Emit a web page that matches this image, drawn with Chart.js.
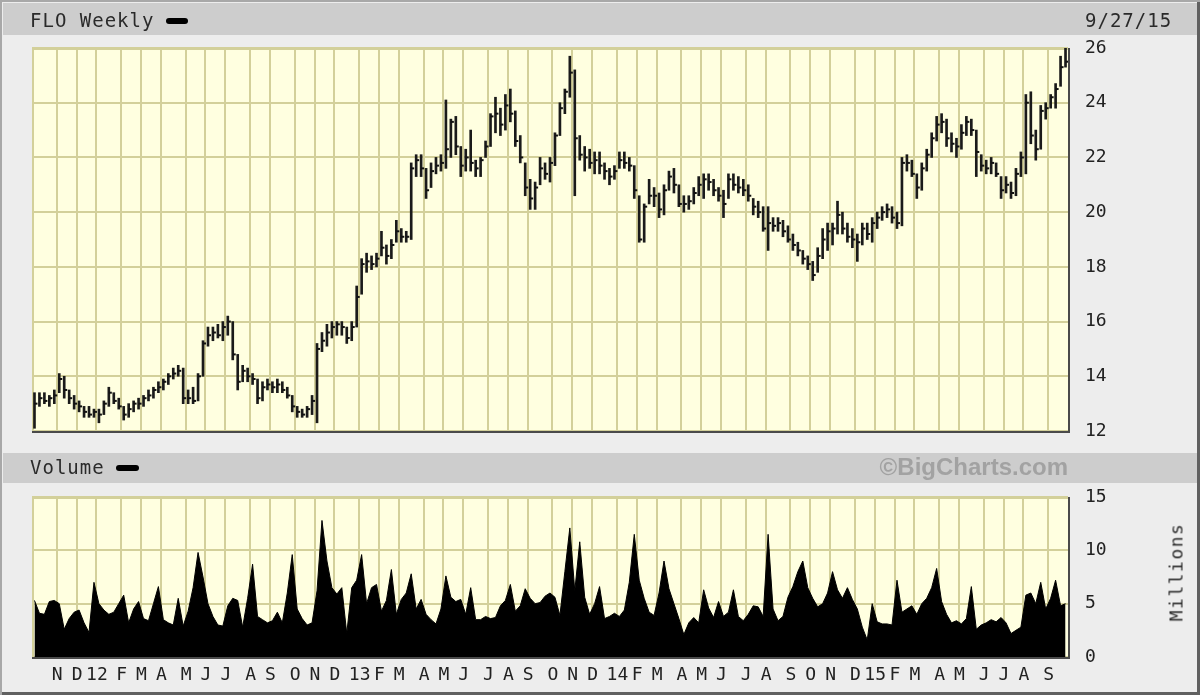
<!DOCTYPE html>
<html><head><meta charset="utf-8">
<script src="https://cdn.jsdelivr.net/npm/chart.js@4.4.0/dist/chart.umd.min.js"></script>
<style>
html,body{margin:0;padding:0;background:#ededed;}
#frame{position:relative;width:1200px;height:695px;background:#ededed;overflow:hidden;font-family:"DejaVu Sans Mono",monospace;color:#2a2a2a;box-shadow:inset 2px 2px 0 #a8a8a8, inset -3px -3px 0 #606060;}
.band{position:absolute;left:3px;width:1194px;background:#cdcdcd;}
.txt{position:absolute;font-size:19px;line-height:19px;letter-spacing:1px;white-space:nowrap;color:#2a2a2a;}
.dash{position:absolute;background:#000;border-radius:3px;}
canvas{position:absolute;left:0;}
</style></head>
<body>
<div id="frame">
  <div class="band" style="top:3px;height:32px;"></div>
  <div class="band" style="top:453px;height:30px;"></div>
  <canvas id="price" width="1200" height="445" style="top:0;"></canvas>
  <canvas id="vol" width="1200" height="255" style="top:440px;"></canvas>
  <div class="txt" style="left:30px;top:11px;">FLO Weekly</div>
  <div class="dash" style="left:166px;top:18px;width:22px;height:6px;"></div>
  <div class="txt" style="left:1085px;top:11px;">9/27/15</div>
  <div class="txt" style="left:30px;top:458px;">Volume</div>
  <div class="dash" style="left:116px;top:465px;width:23px;height:6px;"></div>
  <div style="position:absolute;right:132px;top:455px;font:bold 24px 'Liberation Sans',Arial,sans-serif;line-height:24px;color:#a2a2a2;white-space:nowrap;">©BigCharts.com</div>
  <div class="txt" style="left:1176px;top:572px;font-size:18px;letter-spacing:1.5px;transform:translate(-50%,-50%) rotate(-90deg);">Millions</div>
</div>
<script>
// ---- data (weekly, first week starting Mon 26 Sep 2011) ----
const firstWeek = [2011, 8, 26];
const monthLetters = ['J','F','M','A','M','J','J','A','S','O','N','D'];
const priceTicks = [12,14,16,18,20,22,24,26];
const volumeTicks = [0,5,10,15];

const lows = [
12.1,12.9,13.0,12.9,13.0,13.4,13.2,13.0,12.8,12.7,
12.5,12.5,12.5,12.3,12.6,12.9,13.0,12.8,12.4,12.5,
12.7,12.8,12.9,13.1,13.2,13.4,13.5,13.7,13.9,14.0,
13.0,13.0,13.0,13.1,14.0,15.1,15.3,15.4,15.3,15.5,
14.6,13.5,13.8,13.8,13.7,13.0,13.1,13.5,13.4,13.4,
13.4,13.2,12.7,12.5,12.5,12.5,12.6,12.3,14.9,15.1,
15.4,15.5,15.5,15.2,15.3,15.8,17.0,17.8,17.9,18.0,
18.4,18.1,18.3,18.9,18.9,18.9,19.0,21.3,21.3,20.5,
20.9,21.4,21.5,21.6,22.0,22.1,21.3,21.5,21.5,21.3,
21.3,22.0,22.4,22.9,22.8,23.0,23.3,22.4,21.8,20.6,
20.1,20.1,21.0,21.2,21.1,21.7,22.8,23.6,24.2,20.6,
21.9,21.5,21.6,21.4,21.4,21.2,21.0,21.2,21.6,21.6,
21.5,20.5,18.9,18.9,20.3,20.2,19.8,19.9,20.8,20.7,
20.2,20.0,20.1,20.3,20.6,20.5,20.8,20.6,20.4,19.8,
20.5,20.8,20.7,20.6,20.4,19.9,19.8,19.3,18.6,19.3,
19.3,19.1,18.9,18.6,18.4,18.1,17.9,17.5,17.8,18.3,
18.6,18.8,19.2,19.2,18.9,18.7,18.2,18.8,19.0,18.9,
19.4,19.7,19.8,19.6,19.4,19.5,21.5,21.3,20.5,20.8,
21.5,22.0,22.6,22.9,22.4,22.2,22.0,22.3,22.8,22.8,
21.3,21.5,21.4,21.4,21.3,20.5,20.7,20.5,20.6,21.3,
21.4,22.5,21.9,22.3,23.4,23.8,23.8,24.6,25.3];

const highs = [
13.4,13.4,13.4,13.3,13.5,14.1,14.0,13.5,13.3,13.1,
12.9,12.9,12.8,12.8,13.1,13.6,13.4,13.2,12.9,13.0,
13.1,13.2,13.3,13.5,13.6,13.8,13.9,14.1,14.3,14.4,
14.3,13.5,13.6,14.1,15.3,15.8,15.8,15.9,16.0,16.2,
16.0,14.8,14.4,14.3,14.1,13.9,13.8,13.9,13.8,13.9,
13.8,13.6,13.3,12.9,12.8,12.9,13.3,15.2,15.6,15.9,
16.0,16.0,16.0,15.8,16.0,17.3,18.3,18.5,18.4,18.5,
19.3,18.8,19.0,19.7,19.4,19.3,21.8,22.1,22.1,21.6,
21.8,22.0,22.1,24.1,23.4,23.5,22.4,22.3,23.0,21.9,
22.0,22.6,23.6,24.2,23.8,24.3,24.5,23.7,22.8,21.8,
21.2,21.1,22.0,21.8,22.0,22.9,24.0,24.5,25.7,25.2,
22.8,22.4,22.3,22.2,22.2,21.8,21.6,21.7,22.2,22.2,
22.0,21.7,20.6,20.3,21.2,20.9,20.7,21.0,21.5,21.6,
21.0,20.6,20.6,20.9,21.3,21.4,21.4,21.2,20.9,20.8,
21.4,21.4,21.3,21.2,21.0,20.5,20.4,20.2,20.2,19.8,
19.8,19.7,19.5,19.2,18.9,18.6,18.4,18.2,18.7,19.4,
19.6,19.6,20.4,20.0,19.6,19.4,19.2,19.6,19.6,19.8,
20.0,20.2,20.3,20.2,20.0,22.0,22.1,21.9,21.4,21.8,
22.3,22.9,23.5,23.6,23.4,22.9,22.7,23.2,23.5,23.4,
23.0,22.1,21.9,22.0,21.8,21.3,21.3,21.1,21.6,22.2,
24.3,24.4,23.0,23.9,24.0,24.3,24.7,25.7,26.0];

const closes = [
13.0,13.2,13.1,13.2,13.3,13.9,13.5,13.2,13.0,12.9,
12.7,12.6,12.7,12.6,13.0,13.4,13.1,12.9,12.6,12.8,
13.0,13.0,13.2,13.3,13.5,13.6,13.8,14.0,14.1,14.2,
13.2,13.2,13.1,14.0,15.2,15.5,15.6,15.5,15.8,16.0,
14.8,13.8,14.2,14.0,13.9,13.2,13.6,13.7,13.6,13.7,
13.5,13.3,12.9,12.7,12.6,12.8,13.1,15.0,15.3,15.6,
15.8,15.9,15.8,15.4,15.8,16.9,18.1,18.2,18.1,18.3,
18.7,18.4,18.8,19.3,19.1,19.1,21.6,21.9,21.6,20.8,
21.5,21.7,21.8,22.3,23.3,22.4,21.7,22.0,21.8,21.6,
21.9,22.4,23.5,23.6,23.2,23.9,23.6,22.6,22.0,20.9,
20.5,20.9,21.6,21.4,21.8,22.8,23.8,24.4,25.1,22.7,
22.1,22.0,21.8,21.9,21.7,21.5,21.3,21.5,21.9,21.8,
21.7,20.8,19.0,20.2,20.6,20.6,20.1,20.8,21.3,21.0,
20.3,20.3,20.4,20.7,21.0,21.2,21.1,20.8,20.6,20.3,
21.2,21.0,20.9,20.8,20.6,20.2,20.0,19.4,19.6,19.5,
19.6,19.3,19.0,18.8,18.6,18.3,18.1,17.7,18.4,19.0,
19.3,19.4,19.9,19.4,19.1,19.0,18.9,19.4,19.2,19.6,
19.8,20.0,20.1,19.8,19.6,21.8,21.8,21.4,20.9,21.6,
22.1,22.7,23.2,23.3,22.7,22.5,22.4,22.9,23.3,23.0,
22.2,21.7,21.6,21.8,21.4,20.8,21.0,20.7,21.4,22.0,
24.0,22.8,22.3,23.7,23.8,24.2,24.5,25.3,25.5];

const volumes = [
5.3,4.1,4.0,5.2,5.3,5.0,2.6,3.6,4.2,4.4,
3.2,2.3,7.0,5.0,4.4,4.0,4.2,5.0,5.8,3.2,
4.5,5.2,3.6,3.4,5.0,6.6,3.5,3.2,3.0,5.5,
2.9,4.3,6.5,9.8,7.5,5.0,3.8,3.0,2.9,4.8,
5.5,5.3,2.8,5.5,8.7,3.8,3.5,3.2,3.4,4.2,
3.2,6.0,9.6,4.5,3.6,3.0,3.2,6.2,12.8,9.0,
6.5,5.9,6.5,2.2,6.5,7.2,9.6,5.0,6.5,6.8,
4.3,5.3,8.2,4.0,5.4,6.0,7.8,4.5,5.4,4.0,
3.5,3.1,4.5,7.6,5.6,5.2,5.4,4.0,6.5,3.5,
3.5,3.8,3.6,3.7,4.8,5.3,6.8,4.3,4.8,6.4,
5.5,5.0,5.1,5.7,6.0,5.6,3.9,8.0,12.1,6.2,
10.8,5.6,4.0,5.0,6.6,3.6,3.8,4.1,3.8,4.4,
7.0,11.5,7.2,5.5,4.2,3.9,6.0,9.0,6.4,5.0,
3.6,2.1,3.2,3.7,3.2,6.3,4.6,3.7,5.2,3.8,
4.2,6.3,3.8,3.4,4.0,4.8,4.7,3.8,11.5,4.5,
3.4,3.8,5.6,6.6,8.0,9.0,6.5,5.5,4.7,5.0,
6.0,8.0,6.3,5.5,6.5,5.4,4.5,2.8,1.6,5.0,
3.3,3.1,3.1,3.0,7.2,4.2,4.5,4.8,4.0,5.0,
5.5,6.5,8.3,5.2,4.0,3.2,3.4,3.1,3.6,6.6,
2.6,3.0,3.2,3.5,3.3,3.7,3.2,2.2,2.5,2.8,
5.8,6.0,5.0,7.0,4.5,5.5,7.2,4.8,5.0];

// ---- week labels & month boundaries ----
const weekLabels = [], monthLabel = [], isMonthStart = [];
for (let i = 0; i < closes.length; i++) {
  const mon = new Date(firstWeek[0], firstWeek[1], firstWeek[2] + 7*i);
  const sun = new Date(firstWeek[0], firstWeek[1], firstWeek[2] + 7*i + 6);
  weekLabels.push(mon.toISOString().slice(0,10));
  let start = false, m = -1, y = 0;
  if (mon.getDate() === 1) { start = true; m = mon.getMonth(); y = mon.getFullYear(); }
  else if (sun.getMonth() !== mon.getMonth()) { start = true; m = sun.getMonth(); y = sun.getFullYear(); }
  if (i === 0) start = false;
  isMonthStart.push(start);
  monthLabel.push(start ? (m === 0 ? String(y % 100).padStart(2,'0') : monthLetters[m]) : '');
}

const GRID = '#d3d09a';
const FONT = {family: 'DejaVu Sans Mono', size: 18};
Chart.defaults.font.family = 'DejaVu Sans Mono';

const plotFrame = {
  id: 'plotFrame',
  beforeDraw(chart) {
    const {ctx, chartArea: a} = chart;
    ctx.save();
    ctx.fillStyle = '#ffffe0';
    ctx.fillRect(a.left, a.top, a.right - a.left, a.bottom - a.top);
    ctx.restore();
  },
  beforeDatasetsDraw(chart) {
    const {ctx, chartArea: a} = chart;
    ctx.save();
    ctx.strokeStyle = GRID; ctx.lineWidth = 2;
    ctx.beginPath(); ctx.moveTo(a.left + 1, a.bottom); ctx.lineTo(a.left + 1, a.top + 1); ctx.lineTo(a.right, a.top + 1); ctx.stroke();
    ctx.restore();
  },
  afterDraw(chart) {
    const {ctx, chartArea: a} = chart;
    ctx.save();
    ctx.strokeStyle = '#4a4a4a'; ctx.lineWidth = 2;
    ctx.beginPath(); ctx.moveTo(a.left, a.bottom + 1); ctx.lineTo(a.right + 1, a.bottom + 1); ctx.lineTo(a.right + 1, a.top); ctx.stroke();
    ctx.restore();
  }
};

function xGrid() {
  return {
    offset: true,
    drawTicks: false,
    lineWidth: 2,
    color: c => (isMonthStart[c.index] ? GRID : 'rgba(0,0,0,0)')
  };
}
function yGrid() {
  return {color: GRID, lineWidth: 2, drawTicks: true, tickLength: 14, tickColor: 'rgba(0,0,0,0)'};
}

new Chart(document.getElementById('price'), {
  type: 'bar',
  data: {
    labels: weekLabels,
    datasets: [
      {
        type: 'line',
        data: closes,
        showLine: false,
        pointStyle: 'dash',
        pointRadius: 3,
        pointBorderWidth: 2,
        borderColor: '#111',
        backgroundColor: '#111',
        order: 0
      },
      {
        type: 'bar',
        data: lows.map((l, k) => [l, highs[k]]),
        backgroundColor: '#1a1a1a',
        borderWidth: 0,
        barThickness: 2,
        order: 1
      }
    ]
  },
  options: {
    responsive: false,
    animation: false,
    devicePixelRatio: 1,
    layout: {padding: {left: 32, top: 48, right: 0, bottom: 14}},
    plugins: {legend: {display: false}, tooltip: {enabled: false}},
    scales: {
      x: {
        offset: true,
        afterFit: s => { s.height = 0; },
        ticks: {display: false},
        grid: xGrid(),
        border: {display: false}
      },
      y: {
        position: 'right',
        min: 12, max: 26,
        afterBuildTicks: s => { s.ticks = priceTicks.map(v => ({value: v})); },
        afterFit: s => { s.width = 132; },
        ticks: {padding: 3, color: '#222', font: FONT},
        grid: yGrid(),
        border: {display: false}
      }
    }
  },
  plugins: [plotFrame]
});

new Chart(document.getElementById('vol'), {
  type: 'line',
  data: {
    labels: weekLabels,
    datasets: [{
      data: volumes,
      fill: 'origin',
      backgroundColor: '#000',
      borderColor: '#000',
      borderWidth: 1,
      pointRadius: 0,
      tension: 0
    }]
  },
  options: {
    responsive: false,
    animation: false,
    devicePixelRatio: 1,
    layout: {padding: {left: 32, top: 57, right: 0, bottom: 0}},
    plugins: {legend: {display: false}, tooltip: {enabled: false}},
    scales: {
      x: {
        offset: true,
        afterFit: s => { s.height = 38; },
        ticks: {
          autoSkip: false, maxRotation: 0, minRotation: 0, padding: 8, labelOffset: -2,
          color: '#222', font: FONT,
          callback: (v, i) => monthLabel[i]
        },
        grid: xGrid(),
        border: {display: false}
      },
      y: {
        position: 'right',
        min: 0, max: 15,
        afterBuildTicks: s => { s.ticks = volumeTicks.map(v => ({value: v})); },
        afterFit: s => { s.width = 132; },
        ticks: {padding: 3, color: '#222', font: FONT},
        grid: yGrid(),
        border: {display: false}
      }
    }
  },
  plugins: [plotFrame]
});
</script>
</body></html>
